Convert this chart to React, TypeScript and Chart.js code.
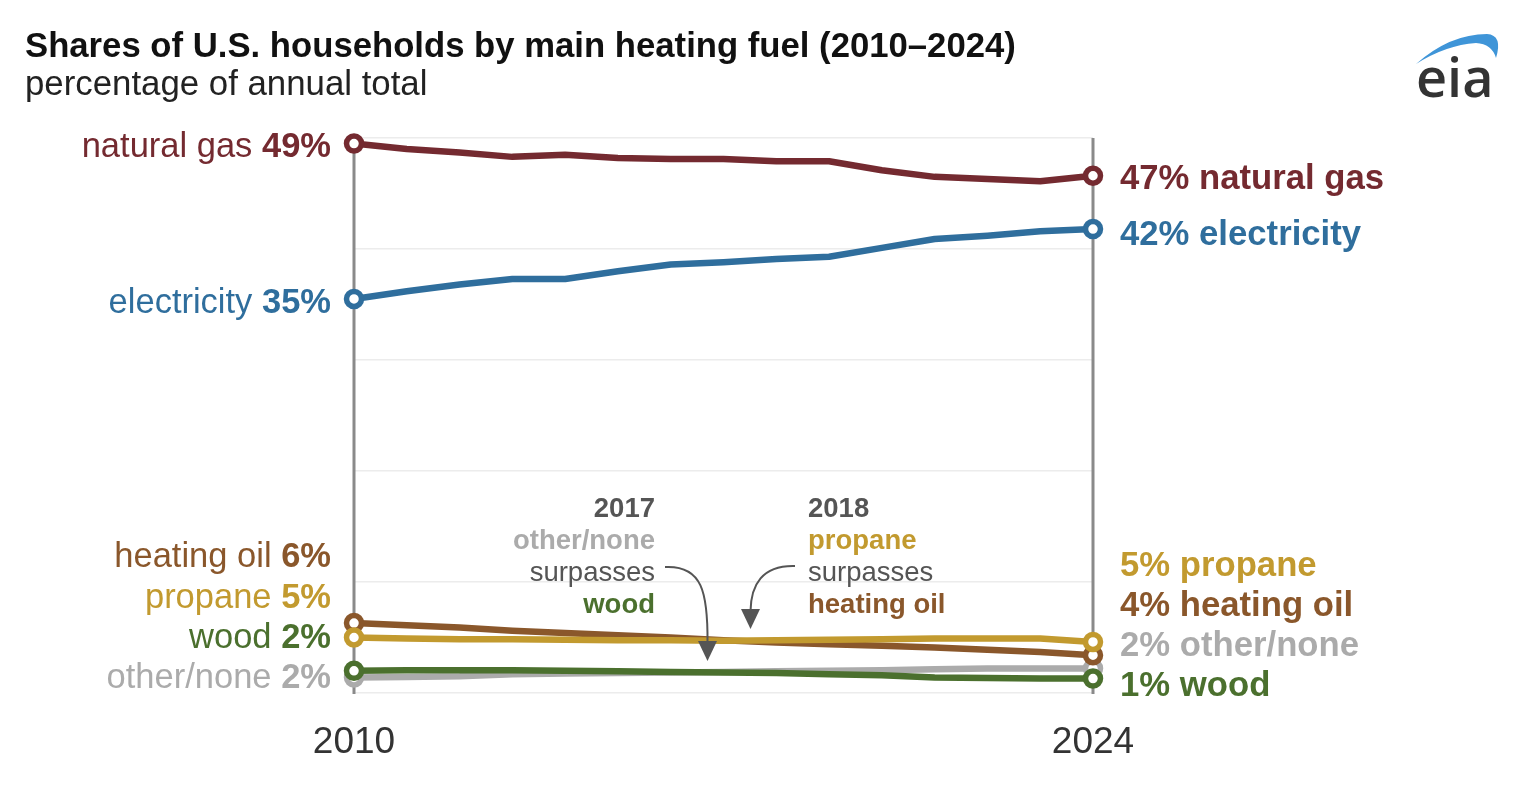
import React, { useEffect, useRef } from "react";
import { Chart, registerables } from "chart.js";

Chart.register(...registerables);

const YEARS = [2010, 2011, 2012, 2013, 2014, 2015, 2016, 2017, 2018, 2019, 2020, 2021, 2022, 2023, 2024];
const NATURAL_GAS = [49.5, 49.0, 48.7, 48.3, 48.5, 48.2, 48.1, 48.1, 47.9, 47.9, 47.1, 46.5, 46.3, 46.1, 46.6];
const ELECTRICITY = [35.5, 36.2, 36.8, 37.3, 37.3, 38.0, 38.6, 38.8, 39.1, 39.3, 40.1, 40.9, 41.2, 41.6, 41.8];
const PROPANE = [5.0, 4.9, 4.85, 4.85, 4.8, 4.75, 4.75, 4.7, 4.75, 4.8, 4.85, 4.9, 4.9, 4.9, 4.6];
const HEATING_OIL = [6.3, 6.1, 5.9, 5.6, 5.4, 5.2, 5.0, 4.75, 4.55, 4.4, 4.25, 4.1, 3.9, 3.7, 3.4];
const WOOD = [2.0, 2.05, 2.05, 2.05, 2.0, 1.95, 1.9, 1.85, 1.8, 1.7, 1.6, 1.4, 1.35, 1.3, 1.3];
const OTHER_NONE = [1.4, 1.45, 1.5, 1.7, 1.75, 1.8, 1.85, 1.9, 1.95, 2.0, 2.05, 2.15, 2.2, 2.2, 2.2];

const X_TICKS = [2010, 2024];
const Y_MAX = 50;

const C_GAS = "#742a30";
const C_ELEC = "#2f6e9d";
const C_PROPANE = "#c29a2f";
const C_OIL = "#8a572b";
const C_WOOD = "#4b702e";
const C_OTHER = "#ababab";
const C_ANNO = "#555555";

const FONT = "'Liberation Sans', Arial, Helvetica, sans-serif";

const SERIES = [
  { name: "natural gas", data: NATURAL_GAS, color: C_GAS },
  { name: "electricity", data: ELECTRICITY, color: C_ELEC },
  { name: "propane", data: PROPANE, color: C_PROPANE },
  { name: "heating oil", data: HEATING_OIL, color: C_OIL },
  { name: "wood", data: WOOD, color: C_WOOD },
  { name: "other/none", data: OTHER_NONE, color: C_OTHER },
];

const LEFT_LABELS = [
  { name: "natural gas ", value: "49%", color: C_GAS, y: 157 },
  { name: "electricity ", value: "35%", color: C_ELEC, y: 313 },
  { name: "heating oil ", value: "6%", color: C_OIL, y: 567 },
  { name: "propane ", value: "5%", color: C_PROPANE, y: 608 },
  { name: "wood ", value: "2%", color: C_WOOD, y: 648 },
  { name: "other/none ", value: "2%", color: C_OTHER, y: 688 },
];

const RIGHT_LABELS = [
  { text: "47% natural gas", color: C_GAS, y: 189 },
  { text: "42% electricity", color: C_ELEC, y: 245 },
  { text: "5% propane", color: C_PROPANE, y: 576 },
  { text: "4% heating oil", color: C_OIL, y: 616 },
  { text: "2% other/none", color: C_OTHER, y: 656 },
  { text: "1% wood", color: C_WOOD, y: 696 },
];

const decorPlugin = {
  id: "decor",
  beforeDatasetsDraw(chart: any) {
    const ctx = chart.ctx;
    const { top, bottom } = chart.chartArea;
    const xs = chart.scales.x;
    ctx.save();
    ctx.strokeStyle = "#8a8a8a";
    ctx.lineWidth = 3;
    X_TICKS.forEach((yr) => {
      const px = xs.getPixelForValue(yr);
      ctx.beginPath();
      ctx.moveTo(px, top);
      ctx.lineTo(px, bottom + 1);
      ctx.stroke();
    });
    ctx.restore();
  },
  afterDraw(chart: any) {
    const ctx = chart.ctx;
    const xs = chart.scales.x;
    ctx.save();

    // Title and subtitle
    ctx.textBaseline = "alphabetic";
    ctx.textAlign = "left";
    ctx.fillStyle = "#111";
    ctx.font = `bold 34.7px ${FONT}`;
    ctx.fillText("Shares of U.S. households by main heating fuel (2010\u20132024)", 25, 57);
    ctx.font = `34.8px ${FONT}`;
    ctx.fillStyle = "#222";
    ctx.fillText("percentage of annual total", 25, 95);

    // x labels
    ctx.font = `37px ${FONT}`;
    ctx.fillStyle = "#333";
    ctx.textAlign = "center";
    X_TICKS.forEach((yr) => {
      ctx.fillText(String(yr), xs.getPixelForValue(yr), 753);
    });

    // left labels
    const leftX = 331;
    LEFT_LABELS.forEach((l) => {
      ctx.fillStyle = l.color;
      ctx.textAlign = "right";
      ctx.font = `bold 34.5px ${FONT}`;
      ctx.fillText(l.value, leftX, l.y);
      const w = ctx.measureText(l.value).width;
      ctx.font = `34.5px ${FONT}`;
      ctx.fillText(l.name, leftX - w, l.y);
    });

    // right labels
    ctx.textAlign = "left";
    ctx.font = `bold 34.7px ${FONT}`;
    RIGHT_LABELS.forEach((l) => {
      ctx.fillStyle = l.color;
      ctx.fillText(l.text, 1120, l.y);
    });

    // annotations
    const a1 = [
      { t: "2017", c: C_ANNO, b: true },
      { t: "other/none", c: C_OTHER, b: true },
      { t: "surpasses", c: C_ANNO, b: false },
      { t: "wood", c: C_WOOD, b: true },
    ];
    const a2 = [
      { t: "2018", c: C_ANNO, b: true },
      { t: "propane", c: C_PROPANE, b: true },
      { t: "surpasses", c: C_ANNO, b: false },
      { t: "heating oil", c: C_OIL, b: true },
    ];
    const baseYs = [517, 549, 581, 613];
    ctx.textAlign = "right";
    a1.forEach((s, i) => {
      ctx.font = `${s.b ? "bold " : ""}27.5px ${FONT}`;
      ctx.fillStyle = s.c;
      ctx.fillText(s.t, 655, baseYs[i]);
    });
    ctx.textAlign = "left";
    a2.forEach((s, i) => {
      ctx.font = `${s.b ? "bold " : ""}27.5px ${FONT}`;
      ctx.fillStyle = s.c;
      ctx.fillText(s.t, 808, baseYs[i]);
    });

    // arrows
    ctx.strokeStyle = C_ANNO;
    ctx.fillStyle = C_ANNO;
    ctx.lineWidth = 2;
    ctx.beginPath();
    ctx.moveTo(665, 567);
    ctx.bezierCurveTo(702, 565, 708, 592, 707.5, 643);
    ctx.stroke();
    ctx.beginPath();
    ctx.moveTo(698, 641);
    ctx.lineTo(717, 641);
    ctx.lineTo(707.5, 661);
    ctx.closePath();
    ctx.fill();

    ctx.beginPath();
    ctx.moveTo(795, 566);
    ctx.bezierCurveTo(762, 565, 751, 585, 750.5, 611);
    ctx.stroke();
    ctx.beginPath();
    ctx.moveTo(741, 609);
    ctx.lineTo(760, 609);
    ctx.lineTo(750.5, 629);
    ctx.closePath();
    ctx.fill();

    // eia logo
    ctx.fillStyle = "#3f95d8";
    ctx.beginPath();
    ctx.moveTo(1416, 64);
    ctx.quadraticCurveTo(1450, 34, 1487, 34);
    ctx.quadraticCurveTo(1503, 35, 1496, 58);
    ctx.quadraticCurveTo(1492, 44, 1476, 43);
    ctx.quadraticCurveTo(1446, 45, 1416, 64);
    ctx.closePath();
    ctx.fill();
    ctx.fillStyle = "#333333";
    ctx.textAlign = "left";
    ctx.font = `600 54px 'Open Sans', ${FONT}`;
    ctx.fillText("eia", 1416, 97);

    ctx.restore();
  },
};

export default function App() {
  const ref = useRef<HTMLCanvasElement | null>(null);
  useEffect(() => {
    if (!ref.current) return;
    const last = YEARS.length - 1;
    const chart = new Chart(ref.current, {
      type: "line",
      data: {
        datasets: SERIES.map((s) => ({
          label: s.name,
          data: YEARS.map((yr, i) => ({ x: yr, y: s.data[i] })),
          borderColor: s.color,
          backgroundColor: s.color,
          borderWidth: 6.5,
          borderCapStyle: "round",
          borderJoinStyle: "round",
          tension: 0,
          clip: false,
          pointRadius: (c: any) => (c.dataIndex === 0 || c.dataIndex === last ? 7.5 : 0),
          pointHoverRadius: (c: any) => (c.dataIndex === 0 || c.dataIndex === last ? 7.5 : 0),
          pointBorderWidth: 5.5,
          pointBackgroundColor: "#ffffff",
          pointBorderColor: s.color,
        })),
      } as any,
      options: {
        responsive: false,
        animation: false,
        events: [],
        layout: { padding: { left: 354, right: 443, top: 138, bottom: 93 } },
        plugins: { legend: { display: false }, tooltip: { enabled: false } },
        scales: {
          x: { type: "linear", min: 2010, max: 2024, display: false },
          y: {
            min: 0,
            max: Y_MAX,
            display: true,
            ticks: { display: false, stepSize: 10 },
            grid: { color: "#ececec", lineWidth: 1.5, drawTicks: false },
            border: { display: false },
            afterFit: (s: any) => {
              s.width = 0;
            },
          } as any,
        },
      },
      plugins: [decorPlugin],
    });
    return () => chart.destroy();
  }, []);
  return (
    <div style={{ position: "absolute", left: 0, top: 0, width: 1536, height: 786, background: "#fff" }}>
      <canvas ref={ref} width={1536} height={786} style={{ display: "block" }} />
    </div>
  );
}
